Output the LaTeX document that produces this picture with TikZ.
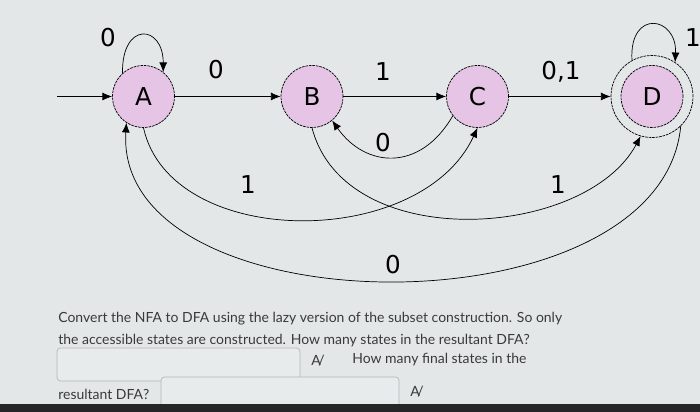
\documentclass[tikz,border=0pt]{standalone}
\usepackage{fontspec}
\setmainfont{Lato}
\newfontfamily\jflapfont{DejaVu Sans}
\usepackage{xcolor}
\usepackage{tikz}
\usetikzlibrary{arrows.meta}

\definecolor{screenbg}{HTML}{E3E7E8}
\definecolor{statefill}{HTML}{E6C4E6}
\definecolor{qgray}{HTML}{3A3A3A}
\definecolor{boxline}{HTML}{B2B6B8}
\definecolor{boxfill}{HTML}{E7EBEC}
\definecolor{taskbar}{HTML}{262626}

\tikzset{
	state/.style={circle, draw=black, thin, dash pattern=on 1.5pt off 0.5pt, fill=statefill, minimum size=1.24cm, inner sep=0pt, font=\jflapfont\fontsize{14}{14}\selectfont},
	ring/.style={circle, draw=black, thin, dash pattern=on 1.5pt off 0.5pt, minimum size=1.64cm, inner sep=0pt},
	trans/.style={draw=black, -{Latex[length=5.5pt,width=4.5pt]}, thin, solid},
	lbl/.style={black, font=\jflapfont\fontsize{14}{14}\selectfont},
	qtext/.style={qgray, anchor=base west, inner sep=0pt, font=\fontsize{7.95}{10}\selectfont},
	answerbox/.style={draw=boxline, fill=boxfill, rounded corners=2pt, thin},
	spellicon/.style={qgray, inner sep=0pt, font=\fontsize{8}{8}\selectfont}
}

\begin{document}
\begin{tikzpicture}
		\useasboundingbox (0.00,0.00) rectangle (14.00,8.24);
		\fill[screenbg] (0.00,0.00) rectangle (14.00,8.24);
		% states
		\node[state] (A) at (2.87,6.31) {A};
		\node[state] (B) at (6.24,6.31) {B};
		\node[state] (C) at (9.55,6.31) {C};
		\node[state] (D) at (13.04,6.31) {D};
		\node[ring] (Dring) at (13.04,6.31) {};
		\coordinate (start) at (1.14,6.31);
		% transitions
		\draw[trans] (start) -- (A);
		\draw[trans] (A) -- (B);
		\draw[trans] (B) -- (C);
		\draw[trans] (C) -- (Dring);
		\draw[trans] (A.132) .. controls +(-0.02,1.04) and +(0.00,0.96) .. (A.51);
		\draw[trans] (Dring.119) .. controls +(-0.06,1.04) and +(0.04,0.92) .. (Dring.56);
		\draw[trans] (C.218) .. controls +(-0.66,-1.14) and +(0.66,-0.94) .. (B.-50);
		\draw[trans] (A.south) .. controls +(0.54,-2.44) and +(-1.14,-2.46) .. (C.south);
		\draw[trans] (B.south) .. controls +(0.66,-2.54) and +(-1.10,-2.06) .. (Dring.-106);
		\draw[trans] (Dring.-46) .. controls +(-0.40,-4.20) and +(-0.26,-4.14) .. (A.-123);
		% labels
		\node[lbl] (l-aa) at (2.16,7.48) {0};
		\node[lbl] (l-ab) at (4.32,6.84) {0};
		\node[lbl] (l-bc) at (7.66,6.80) {1};
		\node[lbl] (l-cd) at (11.22,6.80) {0,1};
		\node[lbl] (l-dd) at (13.86,7.48) {1};
		\node[lbl] (l-cb) at (7.66,5.38) {0};
		\node[lbl] (l-ac) at (4.96,4.54) {1};
		\node[lbl] (l-bd) at (11.16,4.54) {1};
		\node[lbl] (l-da) at (7.86,2.94) {0};
		% question
		\node[qtext] (q1) at (1.16,1.78) {Convert the NFA to DFA using the lazy version of the subset construction. So only};
		\node[qtext] (q2) at (1.16,1.34) {the accessible states are constructed. How many states in the resultant DFA?};
		\draw[answerbox] (1.14,1.28) rectangle (6.00,0.62);
		\node[spellicon] (sp1) at (6.36,1.02) {A\kern-1.5pt/};
		\node[qtext] (q3) at (7.04,0.96) {How many final states in the};
		\node[qtext] (q4) at (1.16,0.24) {resultant DFA?};
		\draw[answerbox] (3.22,0.70) rectangle (7.98,0.08);
		\node[spellicon] (sp2) at (8.34,0.40) {A\kern-1.5pt/};
		\fill[taskbar] (0.00,0.00) rectangle (14.00,0.16);
	\end{tikzpicture}
\end{document}
